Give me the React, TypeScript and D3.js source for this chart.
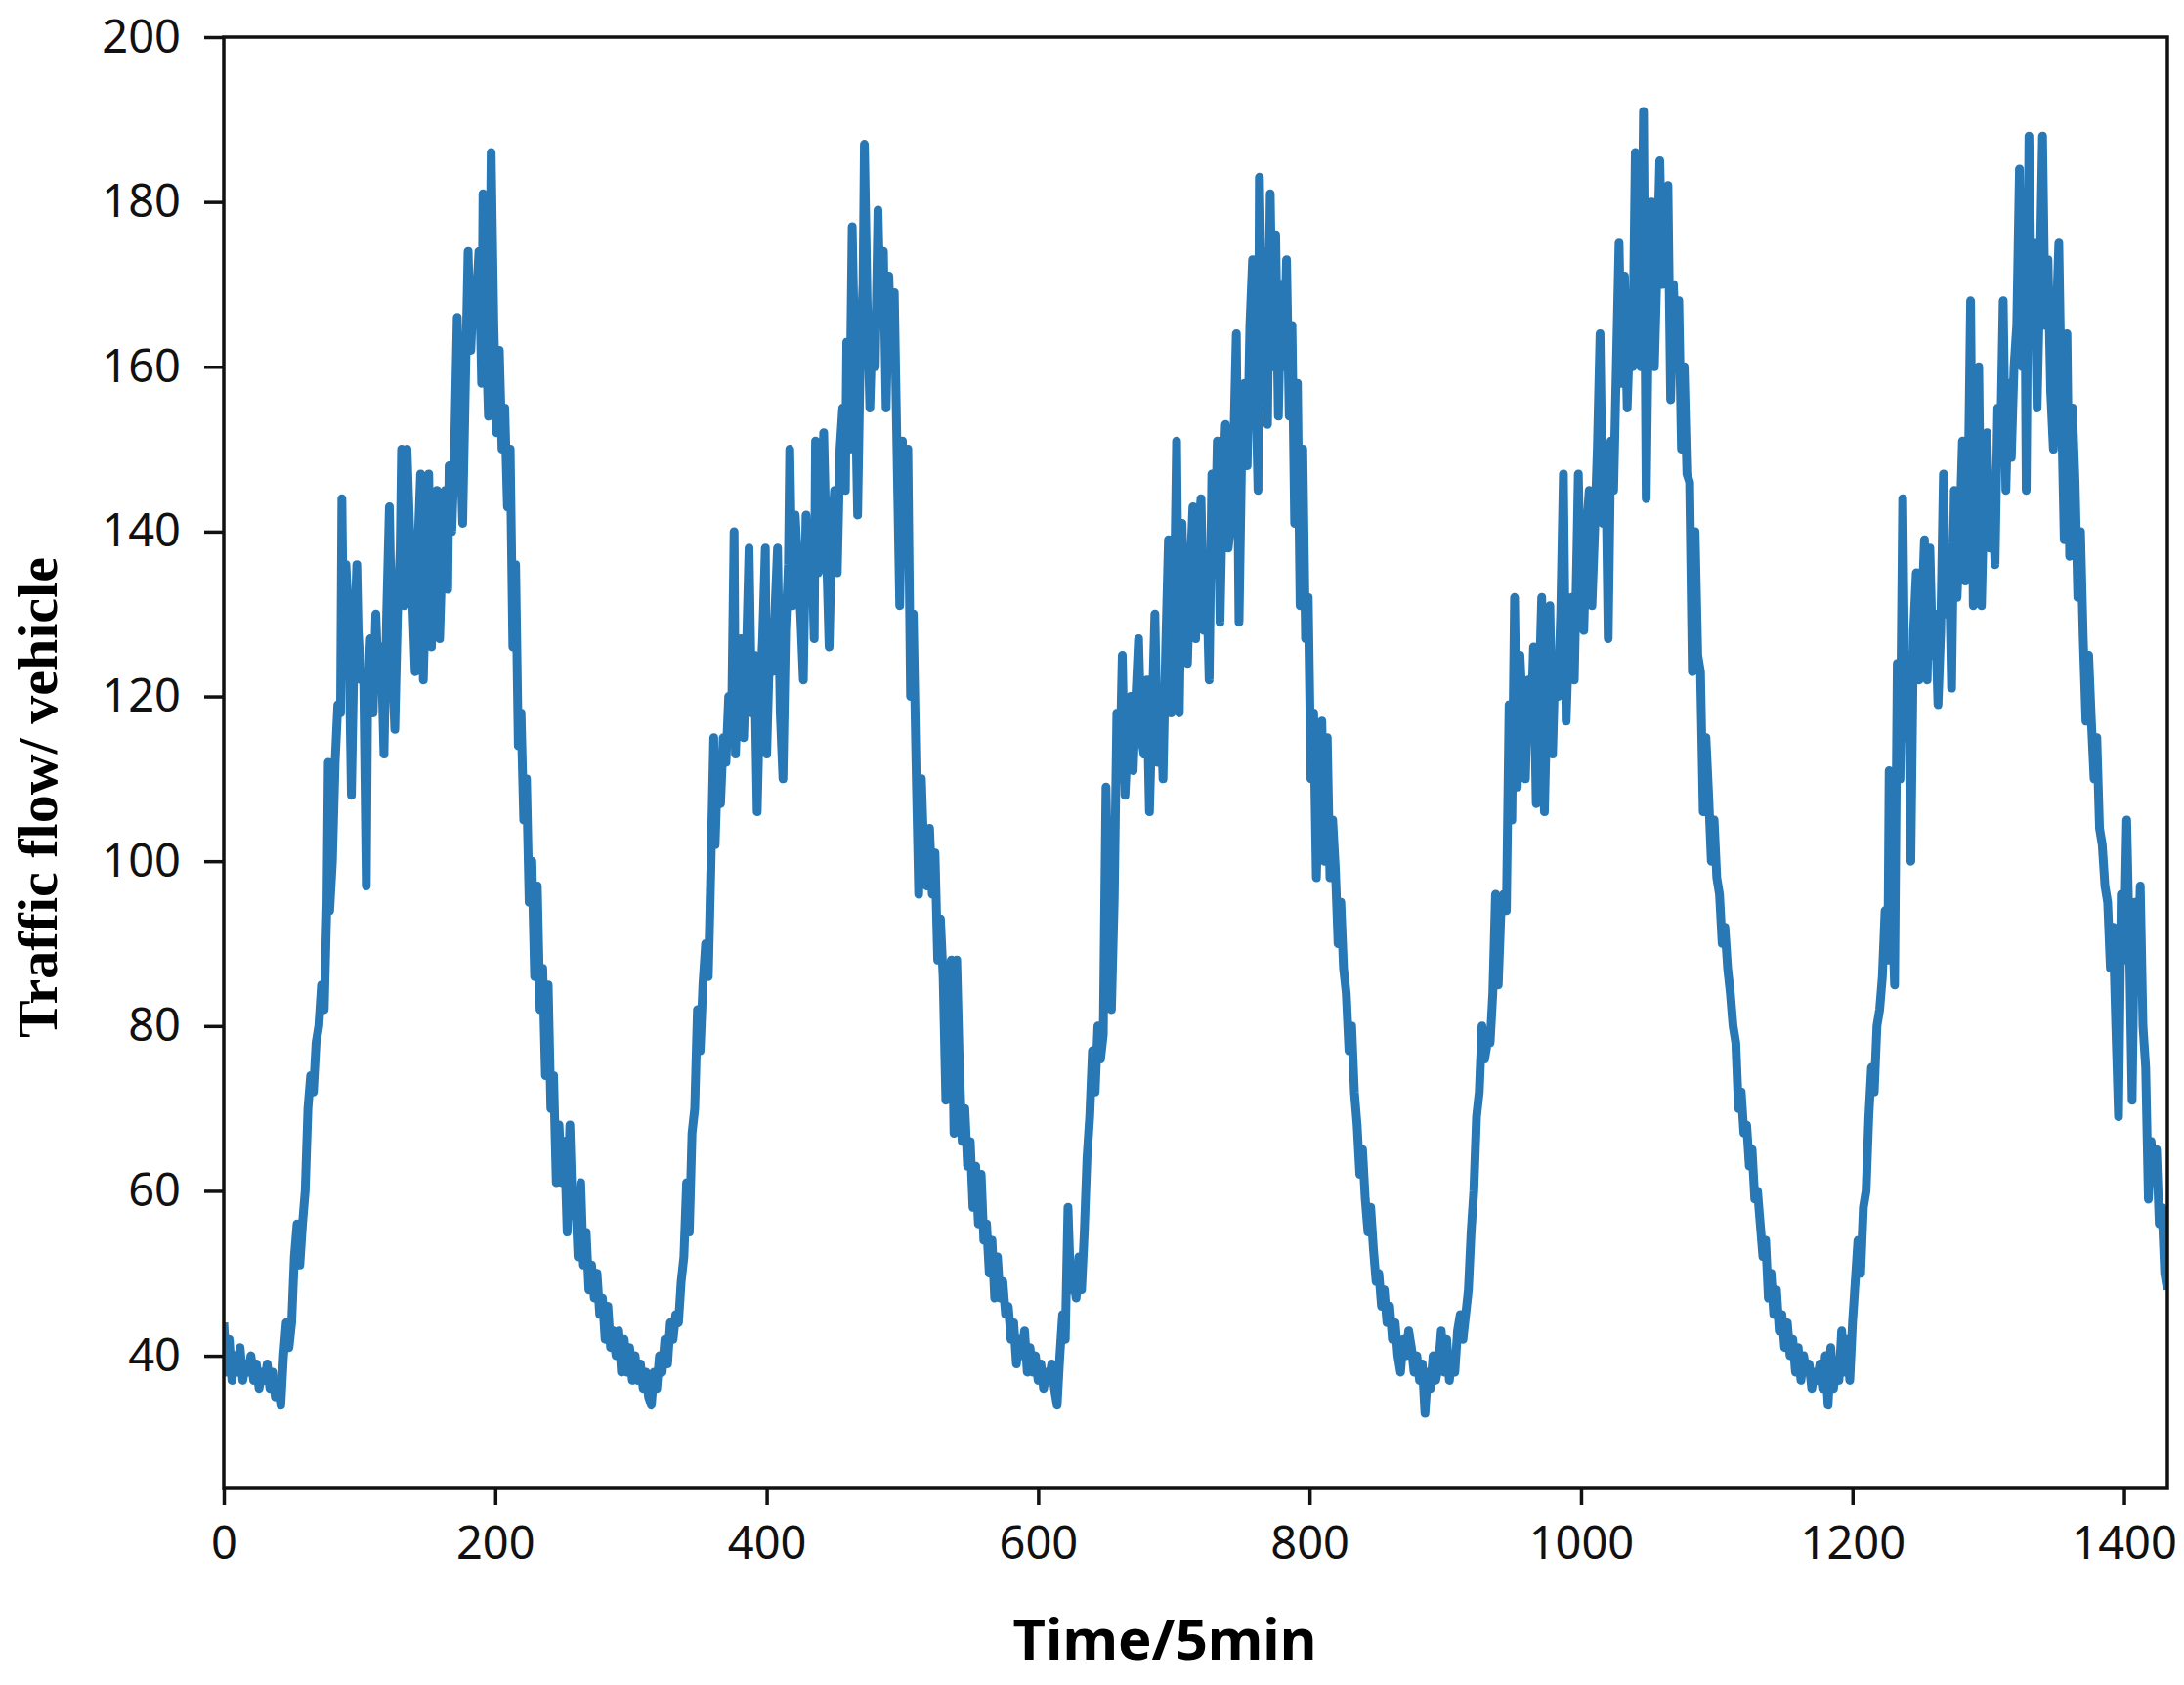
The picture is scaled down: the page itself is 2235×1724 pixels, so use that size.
import * as d3 from 'd3';
import {useEffect, useRef} from 'react';

// readings, [time step, vehicles], one array per daily cycle
const day1Rise: [number, number][] = [
	[0, 44], [2, 38], [4, 42], [6, 37], [8, 40], [10, 38], [12, 41], [14, 37], [16, 39], [18, 38],
	[20, 40], [22, 37], [24, 39], [26, 36], [28, 38], [30, 37], [32, 39], [34, 36], [36, 38], [38, 35],
	[40, 37], [42, 34], [44, 40], [46, 44], [48, 41], [50, 44], [52, 52], [54, 56], [56, 51], [58, 56],
	[60, 60], [62, 70], [64, 74], [66, 72], [68, 78], [70, 80], [72, 85], [74, 82], [76, 95], [77, 112],
	[78, 94], [80, 100], [82, 112], [84, 119], [86, 118], [87, 144], [88, 130], [90, 136], [92, 129], [94, 108],
	[96, 126], [98, 136], [99, 128], [101, 122], [103, 123], [104, 110], [105, 97], [106, 120], [108, 127], [110, 118],
	[112, 130], [114, 121], [116, 126], [118, 113], [120, 130], [122, 143], [124, 125], [126, 116], [128, 130], [130, 138],
	[131, 150], [133, 131], [135, 150], [137, 140], [139, 132], [141, 123], [143, 138], [145, 147], [147, 122], [149, 135],
	[151, 147], [153, 126], [155, 140], [157, 145], [159, 127], [161, 138], [163, 145], [165, 133], [166, 148], [168, 140],
	[170, 150], [172, 166], [174, 152], [176, 141], [178, 158], [180, 174],
];

const day1Fall: [number, number][] = [
	[182, 162], [184, 170], [186, 168], [188, 174], [190, 158], [191, 181], [193, 165], [195, 154], [197, 186], [199, 165],
	[201, 152], [203, 162], [205, 150], [207, 155], [209, 143], [211, 150], [213, 126], [215, 136], [217, 114], [219, 118],
	[221, 105], [223, 110], [225, 95], [227, 100], [229, 86], [231, 97], [233, 82], [235, 87], [237, 74], [239, 85],
	[241, 70], [243, 74], [245, 61], [247, 68], [249, 61], [251, 66], [253, 55], [255, 68], [257, 57], [259, 60],
	[261, 52], [263, 61], [265, 51], [267, 55], [269, 48], [271, 51], [273, 47], [275, 50], [277, 45], [279, 47],
	[281, 42], [283, 46], [285, 41], [287, 43], [289, 40], [291, 43], [293, 38], [295, 42], [297, 38], [299, 41],
	[301, 37], [303, 40], [305, 37], [307, 39], [309, 36], [311, 38], [313, 35], [315, 34], [317, 38], [319, 36],
	[321, 40], [323, 38], [325, 42], [327, 39], [329, 44], [331, 42], [333, 45], [335, 44], [337, 49], [339, 52],
	[341, 61], [343, 55], [345, 67], [347, 70], [349, 82], [351, 77], [353, 85], [355, 90], [357, 86],
];

const day2Rise: [number, number][] = [
	[359, 100], [361, 115], [362, 102], [364, 112], [366, 107], [368, 115], [370, 112], [372, 120], [374, 115], [376, 140],
	[377, 113], [379, 122], [381, 127], [383, 115], [385, 125], [387, 138], [389, 118], [391, 125], [393, 106], [395, 120],
	[397, 127], [399, 138], [400, 113], [402, 125], [404, 123], [406, 130], [408, 138], [410, 118], [412, 110], [414, 128],
	[416, 136], [417, 150], [419, 131], [421, 142], [423, 136], [425, 130], [427, 122], [429, 142], [431, 133], [433, 140],
	[435, 127], [436, 151], [438, 135], [440, 140], [442, 152], [444, 138], [446, 126], [448, 140], [450, 145], [452, 135],
	[454, 150], [456, 155], [458, 145], [459, 163], [461, 150], [463, 177], [465, 160], [467, 142], [469, 162], [471, 170],
	[472, 187], [474, 168], [476, 155], [478, 166], [480, 160], [482, 179], [484, 165], [486, 174], [488, 155], [490, 171],
	[492, 160], [494, 169], [496, 150], [498, 131], [500, 151], [502, 140], [504, 150],
];

const day2Fall: [number, number][] = [
	[506, 120], [508, 130], [510, 112], [512, 96], [514, 110], [516, 100], [518, 97], [520, 104], [522, 96], [524, 101],
	[526, 88], [528, 93], [530, 86], [532, 71], [534, 82], [536, 88], [538, 67], [540, 88], [542, 75], [544, 66],
	[546, 70], [548, 63], [550, 66], [552, 58], [554, 63], [556, 56], [558, 62], [560, 54], [562, 56], [564, 50],
	[566, 54], [568, 47], [570, 52], [572, 47], [574, 49], [576, 45], [578, 46], [580, 42], [582, 44], [584, 39],
	[586, 42], [588, 40], [590, 43], [592, 38], [594, 41], [596, 38], [598, 40], [600, 37], [602, 39], [604, 36],
	[606, 38], [608, 37], [610, 39], [612, 36], [614, 34], [616, 40], [618, 45], [620, 42], [622, 58], [624, 48],
	[626, 50], [628, 47], [630, 52], [632, 48], [634, 55], [636, 64], [638, 69], [640, 77], [642, 72], [644, 80],
	[646, 76], [648, 79], [650, 109], [652, 91], [654, 82], [656, 95],
];

const day3Rise: [number, number][] = [
	[658, 118], [660, 110], [662, 125], [664, 108], [666, 115], [668, 120], [670, 111], [672, 120], [674, 127], [676, 115],
	[678, 113], [680, 122], [682, 106], [684, 118], [686, 130], [688, 112], [690, 121], [692, 110], [694, 126], [696, 139],
	[698, 118], [700, 128], [702, 151], [704, 118], [706, 141], [708, 128], [710, 124], [712, 135], [714, 143], [716, 127],
	[718, 140], [720, 144], [722, 128], [724, 135], [726, 122], [728, 147], [730, 135], [732, 151], [734, 129], [736, 145],
	[738, 153], [740, 138], [742, 141], [744, 150], [746, 164], [748, 129], [750, 150], [752, 158], [754, 148], [756, 165],
	[758, 173], [760, 160], [762, 145], [763, 183], [765, 165], [767, 174], [769, 153], [771, 181], [773, 160], [775, 176],
	[777, 154], [779, 170], [781, 160], [783, 173], [785, 154], [787, 165], [789, 141], [791, 158], [793, 131], [795, 150],
	[797, 127], [799, 132],
];

const day3Fall: [number, number][] = [
	[801, 110], [803, 118], [805, 98], [807, 110], [809, 117], [811, 100], [813, 115], [815, 98], [817, 105], [819, 99],
	[821, 90], [823, 95], [825, 87], [827, 84], [829, 77], [831, 80], [833, 72], [835, 68], [837, 62], [839, 65],
	[841, 59], [843, 55], [845, 58], [847, 53], [849, 49], [851, 50], [853, 46], [855, 48], [857, 44], [859, 46],
	[861, 42], [863, 44], [865, 40], [867, 38], [869, 42], [871, 40], [873, 43], [875, 41], [877, 38], [879, 40],
	[881, 37], [883, 39], [885, 33], [887, 38], [889, 36], [891, 40], [893, 37], [895, 39], [897, 43], [899, 38],
	[901, 42], [903, 37], [905, 40], [907, 38], [909, 43], [911, 45], [913, 42], [915, 45], [917, 48], [919, 55],
	[921, 60], [923, 69], [925, 72], [927, 80], [929, 76], [931, 78], [933, 78], [935, 84], [937, 96], [939, 85],
	[941, 94], [943, 96], [945, 94], [947, 119],
];

const day4Rise: [number, number][] = [
	[949, 105], [951, 132], [953, 109], [955, 125], [957, 118], [959, 110], [961, 122], [963, 115], [965, 126], [967, 107],
	[969, 120], [971, 132], [973, 106], [975, 120], [977, 131], [979, 113], [981, 125], [983, 120], [985, 130], [987, 147],
	[989, 117], [991, 127], [993, 132], [995, 122], [997, 138], [998, 147], [1000, 130], [1002, 128], [1004, 140], [1006, 145],
	[1008, 131], [1010, 140], [1012, 150], [1014, 164], [1016, 141], [1018, 150], [1020, 127], [1022, 151], [1024, 145], [1026, 160],
	[1028, 175], [1030, 158], [1032, 171], [1034, 155], [1036, 165], [1038, 160], [1040, 186], [1042, 165], [1044, 160], [1046, 191],
	[1048, 144], [1050, 170], [1052, 180], [1054, 160], [1056, 172], [1058, 185], [1060, 170], [1062, 175], [1064, 182], [1066, 156],
	[1068, 170], [1070, 162], [1072, 168], [1074, 150], [1076, 160], [1078, 147], [1080, 146],
];

const day4Fall: [number, number][] = [
	[1082, 123], [1084, 140], [1086, 125], [1088, 123], [1090, 106], [1092, 115], [1094, 108], [1096, 100], [1098, 105], [1100, 98],
	[1102, 96], [1104, 90], [1106, 92], [1108, 87], [1110, 84], [1112, 80], [1114, 78], [1116, 70], [1118, 72], [1120, 67],
	[1122, 68], [1124, 63], [1126, 65], [1128, 59], [1130, 60], [1132, 56], [1134, 52], [1136, 54], [1138, 47], [1140, 50],
	[1142, 45], [1144, 48], [1146, 43], [1148, 45], [1150, 41], [1152, 44], [1154, 40], [1156, 42], [1158, 38], [1160, 41],
	[1162, 37], [1164, 40], [1166, 38], [1168, 39], [1170, 36], [1172, 38], [1174, 37], [1176, 39], [1178, 36], [1180, 40],
	[1182, 34], [1184, 41], [1186, 36], [1188, 39], [1190, 37], [1192, 43], [1194, 38], [1196, 42], [1198, 37], [1200, 44],
	[1202, 49], [1204, 54], [1206, 50], [1208, 58], [1210, 60], [1212, 69], [1214, 75], [1216, 72], [1218, 80], [1220, 82],
	[1222, 86], [1224, 94], [1226, 88], [1227, 111], [1229, 95], [1231, 85],
];

const day5: [number, number][] = [
	[1233, 124], [1235, 110], [1237, 144], [1239, 115], [1241, 125], [1243, 100], [1245, 128], [1247, 135], [1249, 122], [1251, 130],
	[1253, 139], [1255, 122], [1257, 138], [1259, 125], [1261, 130], [1263, 119], [1265, 128], [1267, 147], [1269, 130], [1271, 138],
	[1273, 121], [1275, 145], [1277, 132], [1279, 140], [1281, 151], [1283, 134], [1285, 143], [1287, 168], [1289, 131], [1291, 150],
	[1293, 160], [1295, 131], [1297, 145], [1299, 152], [1301, 138], [1303, 145], [1305, 136], [1307, 155], [1309, 150], [1311, 168],
	[1313, 145], [1315, 158], [1317, 149], [1319, 160], [1321, 165], [1323, 184], [1325, 160], [1327, 170], [1328, 145], [1330, 188],
	[1332, 165], [1334, 175], [1336, 155], [1338, 170], [1340, 188], [1342, 165], [1344, 173], [1346, 157], [1348, 150], [1350, 165],
	[1352, 175], [1354, 155], [1356, 139], [1358, 164], [1360, 137], [1362, 155], [1364, 146], [1366, 132], [1368, 140], [1370, 127],
	[1372, 117], [1374, 125], [1376, 117], [1378, 110], [1380, 115], [1382, 104], [1384, 102], [1386, 97], [1388, 95], [1390, 87],
	[1392, 92], [1394, 80], [1396, 69], [1398, 96], [1400, 88], [1402, 105], [1404, 90], [1406, 71], [1408, 95], [1410, 85],
	[1412, 97], [1414, 80], [1416, 75], [1418, 59], [1420, 66], [1422, 62], [1424, 65], [1426, 56], [1428, 58], [1430, 50],
	[1432, 48],
];

const xTicks = [0, 200, 400, 600, 800, 1000, 1200, 1400];
const yTicks = [40, 60, 80, 100, 120, 140, 160, 180, 200];

const width = 2235;
const height = 1724;
const margin = {top: 38, right: 17, bottom: 202, left: 229};

export default function App() {
	const svgRef = useRef<SVGSVGElement>(null);

	useEffect(() => {
		const svg = d3.select(svgRef.current);
		svg.selectAll('*').remove();

		const innerWidth = width - margin.left - margin.right;
		const innerHeight = height - margin.top - margin.bottom;

		const series = [...day1Rise, ...day1Fall, ...day2Rise, ...day2Fall, ...day3Rise, ...day3Fall, ...day4Rise, ...day4Fall, ...day5];

		const x = d3.scaleLinear().domain([0, 1432]).range([0, innerWidth]);
		const y = d3.scaleLinear().domain([24, 200]).range([innerHeight, 0]);

		const chart = svg.append('g').attr('transform', `translate(${margin.left},${margin.top})`);

		chart
			.append('clipPath')
			.attr('id', 'plot-clip')
			.append('rect')
			.attr('width', innerWidth)
			.attr('height', innerHeight);

		const line = d3
			.line<[number, number]>()
			.x((d) => x(d[0]))
			.y((d) => y(d[1]));

		chart
			.append('path')
			.datum(series)
			.attr('clip-path', 'url(#plot-clip)')
			.attr('fill', 'none')
			.attr('stroke', '#2878b6')
			.attr('stroke-width', 9)
			.attr('stroke-linejoin', 'round')
			.attr('d', line);

		const xAxis = chart
			.append('g')
			.attr('transform', `translate(0,${innerHeight})`)
			.call(d3.axisBottom(x).tickValues(xTicks).tickFormat(d3.format('d')).tickSize(18).tickPadding(22));

		const yAxis = chart
			.append('g')
			.call(d3.axisLeft(y).tickValues(yTicks).tickFormat(d3.format('d')).tickSize(20).tickPadding(24));

		[xAxis, yAxis].forEach((axis) => {
			axis.select('.domain').remove();
			axis.selectAll('line').attr('stroke', '#111').attr('stroke-width', 3.5);
			axis
				.selectAll('text')
				.attr('fill', '#111')
				.style('font-family', '"Noto Sans", "Open Sans", sans-serif')
				.style('font-size', '47px');
		});

		chart
			.append('rect')
			.attr('width', innerWidth)
			.attr('height', innerHeight)
			.attr('fill', 'none')
			.attr('stroke', '#111')
			.attr('stroke-width', 3.5);

		svg
			.append('text')
			.attr('x', 1192)
			.attr('y', 1698)
			.attr('text-anchor', 'middle')
			.style('font-family', '"Noto Sans", "Open Sans", sans-serif')
			.style('font-weight', 'bold')
			.style('font-size', '58px')
			.attr('fill', '#000')
			.text('Time/5min');

		svg
			.append('text')
			.attr('transform', `translate(58,816) rotate(-90)`)
			.attr('text-anchor', 'middle')
			.style('font-family', '"Liberation Serif", "Times New Roman", serif')
			.style('font-weight', 'bold')
			.style('font-size', '58px')
			.attr('fill', '#000')
			.text('Traffic flow/ vehicle');
	}, []);

	return (
		<div style={{position: 'absolute', left: 0, top: 0}}>
			<svg ref={svgRef} width={width} height={height} style={{display: 'block', background: '#fff'}} />
		</div>
	);
}
